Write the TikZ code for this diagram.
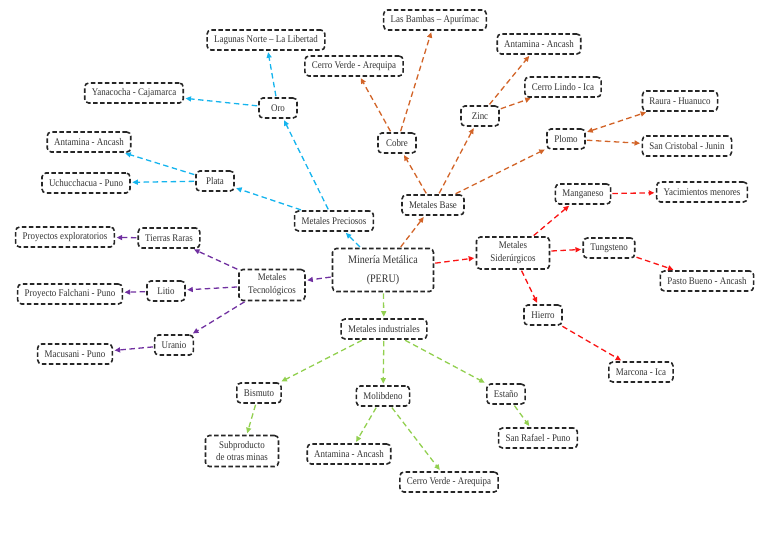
\documentclass[tikz,border=0pt]{standalone}
\usepackage{fontspec}
\setmainfont{Liberation Serif}[FakeStretch=0.88]
\usetikzlibrary{arrows.meta}
\definecolor{celeste}{RGB}{20,180,238}
\definecolor{cobrizo}{RGB}{210,100,40}
\definecolor{rojo}{RGB}{250,20,20}
\definecolor{morado}{RGB}{112,48,160}
\definecolor{verde}{RGB}{146,208,80}

\begin{document}
\begin{tikzpicture}[x=1bp, y=-1bp,
    box/.style = {draw=black!85, dash pattern=on 4.5bp off 2.5bp, line width=1.6bp, rounded corners=4bp, minimum width=38bp, minimum height=20bp, inner xsep=7bp, inner ysep=2bp, text=black!80, font=\fontsize{10.2}{13}\selectfont, align=center},
    link/.style = {-{Triangle[length=5.5bp,width=5bp]}, line width=1.3bp, dash pattern=on 5.5bp off 3.5bp, shorten >=1.5bp, shorten <=1bp},
    pre/.style = {link, draw=celeste},
    bas/.style = {link, draw=cobrizo},
    sid/.style = {link, draw=rojo},
    tec/.style = {link, draw=morado},
    ind/.style = {link, draw=verde}]
            \useasboundingbox (0,0) rectangle (768,543);

            \node[box, minimum width=101bp, minimum height=43bp, font=\fontsize{11.5}{19}\selectfont](min) at (383,270) {Minería Metálica\\(PERU)};

            \node[box](prec) at ([shift={(-49,-49)}]min) {Metales Preciosos};
            \node[box](oro) at ([shift={(-56,-113)}]prec) {Oro};
            \node[box](lagunas) at ([shift={(-12,-68)}]oro) {Lagunas Norte – La Libertad};
            \node[box](yanacocha) at ([shift={(-144,-15)}]oro) {Yanacocha - Cajamarca};
            \node[box](plata) at ([shift={(-119,-40)}]prec) {Plata};
            \node[box](antaminaL) at ([shift={(-126,-39)}]plata) {Antamina - Ancash};
            \node[box](uchuc) at ([shift={(-129,2)}]plata) {Uchucchacua - Puno};

            \draw[pre] (min) -- (prec);
            \draw[pre] (prec) -- (oro);\draw[pre] (prec) -- (plata);
            \draw[pre] (oro) -- (lagunas);\draw[pre] (oro) -- (yanacocha);
            \draw[pre] (plata) -- (antaminaL);\draw[pre] (plata) -- (uchuc);

            \node[box](base) at ([shift={(50,-65)}]min) {Metales Base};
            \node[box](cobre) at ([shift={(-36,-62)}]base) {Cobre};
            \node[box](bambas) at ([shift={(38,-123)}]cobre) {Las Bambas – Apurímac};
            \node[box](verdeT) at ([shift={(-43,-77)}]cobre) {Cerro Verde - Arequipa};
            \node[box](zinc) at ([shift={(47,-89)}]base) {Zinc};
            \node[box](antaminaT) at ([shift={(59,-72)}]zinc) {Antamina - Ancash};
            \node[box](lindo) at ([shift={(83,-29)}]zinc) {Cerro Lindo - Ica};
            \node[box](plomo) at ([shift={(133,-66)}]base) {Plomo};
            \node[box](raura) at ([shift={(114,-38)}]plomo) {Raura - Huanuco};
            \node[box](cristobal) at ([shift={(121,7)}]plomo) {San Cristobal - Junin};

            \draw[bas] (min) -- (base);
            \draw[bas] (base) -- (cobre);\draw[bas] (base) -- (zinc);\draw[bas] (base) -- (plomo);
            \draw[bas] (cobre) -- (bambas);\draw[bas] (cobre) -- (verdeT);
            \draw[bas] (zinc) -- (antaminaT);\draw[bas] (zinc) -- (lindo);
            \draw[bas, {Triangle[length=5.5bp,width=5bp]}-{Triangle[length=5.5bp,width=5bp]}, shorten <=1.5bp] (plomo) -- (raura);
            \draw[bas] (plomo) -- (cristobal);

            \node[box, minimum width=73bp, minimum height=32bp](sider) at ([shift={(130,-17)}]min) {Metales\\Siderúrgicos};
            \node[box](mang) at ([shift={(70,-59)}]sider) {Manganeso};
            \node[box](yacim) at ([shift={(119,-2)}]mang) {Yacimientos menores};
            \node[box](tung) at ([shift={(96,-5)}]sider) {Tungsteno};
            \node[box](pasto) at ([shift={(98,33)}]tung) {Pasto Bueno - Ancash};
            \node[box](hierro) at ([shift={(30,62)}]sider) {Hierro};
            \node[box](marcona) at ([shift={(98,57)}]hierro) {Marcona - Ica};

            \draw[sid] (min) -- (sider);
            \draw[sid] (sider) -- (mang);\draw[sid] (sider) -- (tung);\draw[sid] (sider) -- (hierro);
            \draw[sid] (mang) -- (yacim);\draw[sid] (tung) -- (pasto);\draw[sid] (hierro) -- (marcona);

            \node[box, minimum width=66bp, minimum height=31bp](tecno) at ([shift={(-111,15)}]min) {Metales\\Tecnológicos};
            \node[box](tierras) at ([shift={(-103,-47)}]tecno) {Tierras Raras};
            \node[box](proyectos) at ([shift={(-104,-1)}]tierras) {Proyectos exploratorios};
            \node[box](litio) at ([shift={(-106,6)}]tecno) {Litio};
            \node[box](falchani) at ([shift={(-96,3)}]litio) {Proyecto Falchani - Puno};
            \node[box](uranio) at ([shift={(-98,60)}]tecno) {Uranio};
            \node[box](macusani) at ([shift={(-99,9)}]uranio) {Macusani - Puno};

            \draw[tec] (min) -- (tecno);
            \draw[tec] (tecno) -- (tierras);\draw[tec] (tecno) -- (litio);\draw[tec] (tecno) -- (uranio);
            \draw[tec] (tierras) -- (proyectos);\draw[tec] (litio) -- (falchani);\draw[tec] (uranio) -- (macusani);

            \node[box](indus) at ([shift={(1,59)}]min) {Metales industriales};
            \node[box](bismuto) at ([shift={(-125,64)}]indus) {Bismuto};
            \node[box, minimum width=73bp, minimum height=31bp](subprod) at ([shift={(-17,58)}]bismuto) {Subproducto\\de otras minas};
            \node[box](molib) at ([shift={(-1,67)}]indus) {Molibdeno};
            \node[box](antaminaB) at ([shift={(-34,58)}]molib) {Antamina - Ancash};
            \node[box](verdeB) at ([shift={(66,86)}]molib) {Cerro Verde - Arequipa};
            \node[box](estano) at ([shift={(122,65)}]indus) {Estaño};
            \node[box](rafael) at ([shift={(32,44)}]estano) {San Rafael - Puno};

            \draw[ind] (min) -- (indus);
            \draw[ind] (indus) -- (bismuto);\draw[ind] (indus) -- (molib);\draw[ind] (indus) -- (estano);
            \draw[ind] (bismuto) -- (subprod);
            \draw[ind] (molib) -- (antaminaB);\draw[ind] (molib) -- (verdeB);
            \draw[ind] (estano) -- (rafael);
        \end{tikzpicture}
\end{document}
